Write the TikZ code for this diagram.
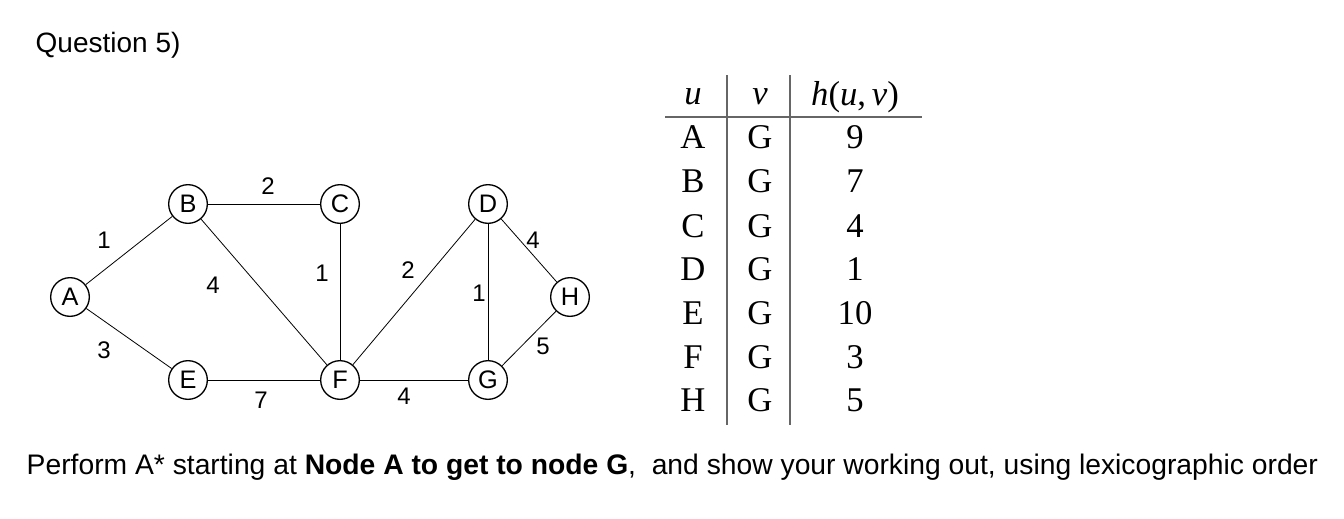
\documentclass[tikz,border=0pt]{standalone}
\usepackage{fontspec}
\setmainfont{Liberation Sans}
\newfontfamily\tabfont{Liberation Serif}
\begin{document}
\begin{tikzpicture}[x=0.75pt,y=-0.75pt,
  vert/.style={circle,draw,line width=1pt,minimum size=29pt,inner sep=0pt,font=\fontsize{19}{19}\selectfont},
  edge/.style={line width=0.6pt},
  wt/.style={font=\fontsize{18}{18}\selectfont},
  tab/.style={font=\tabfont\fontsize{26}{26}\selectfont,anchor=center},
  tl/.style={line width=0.8pt,gray!80!black}]
\useasboundingbox (0,0) rectangle (1344,518);
\node[anchor=west,font=\fontsize{21}{21}\selectfont] (q) at (31,45) {Question 5)};
\node (A) [vert] at (70,297) {A};
\node (B) [vert] at (188,204) {B};
\node (C) [vert] at (340,204) {C};
\node (D) [vert] at (488,204) {D};
\node (E) [vert] at (188,380) {E};
\node (F) [vert] at (340,380) {F};
\node (G) [vert] at (488,380) {G};
\node (H) [vert] at (570,297) {H};
\draw[edge] (A)--(B); \draw[edge] (A)--(E); \draw[edge] (B)--(C);
\draw[edge] (B)--(F); \draw[edge] (C)--(F); \draw[edge] (E)--(F);
\draw[edge] (F)--(D); \draw[edge] (F)--(G); \draw[edge] (D)--(G);
\draw[edge] (D)--(H); \draw[edge] (G)--(H);
\node[wt] (w1) at (104,240) {1};
\node[wt] (w2) at (104,350) {3};
\node[wt] (w3) at (268,186) {2};
\node[wt] (w4) at (213,285) {4};
\node[wt] (w5) at (322,273) {1};
\node[wt] (w6) at (408,270) {2};
\node[wt] (w7) at (479,293) {1};
\node[wt] (w8) at (533,240) {4};
\node[wt] (w9) at (543,346) {5};
\node[wt] (w10) at (261,400) {7};
\node[wt] (w11) at (404,396) {4};
% table
\coordinate (v1t) at (727,75); \coordinate (v1b) at (727,425);
\coordinate (v2t) at (790,75); \coordinate (v2b) at (790,425);
\coordinate (hl) at (665,117); \coordinate (hr) at (922,117);
\draw[tl] (v1t)--(v1b); \draw[tl] (v2t)--(v2b); \draw[tl] (hl)--(hr);
\node[tab] (hu) at (693,97) {\textit{u}};
\node[tab] (hv) at (760,97) {\textit{v}};
\node[tab] (hh) at (855,97) {\textit{h}(\textit{u},\,\textit{v})};
\foreach \u/\h/\y [count=\i] in {A/9/137,B/7/181,C/4/226,D/1/269,E/10/313,F/3/357,H/5/400}{
  \node[tab] (u\i) at (693,\y) {\u};
  \node[tab] (v\i) at (760,\y) {G};
  \node[tab] (h\i) at (855,\y) {\h};
}
\node[anchor=west,font=\fontsize{21.2}{21}\selectfont] (p) at (22,467) {Perform A* starting at \textbf{Node A to get to node G},\ \ and show your working out, using lexicographic order};
\end{tikzpicture}
\end{document}
